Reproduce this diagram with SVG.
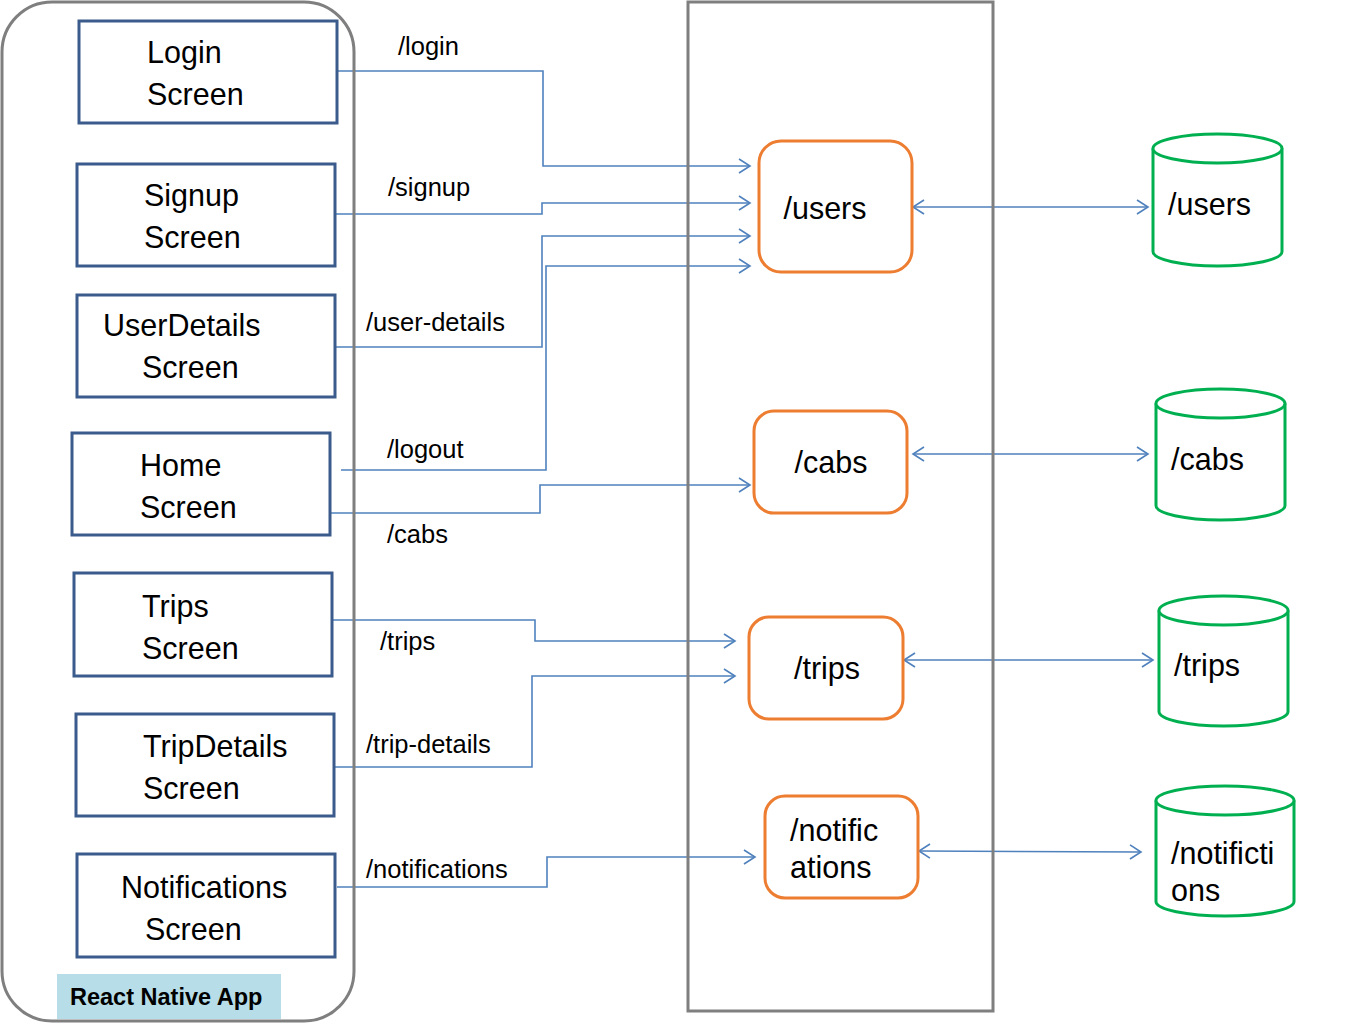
<svg xmlns="http://www.w3.org/2000/svg" width="1358" height="1029" viewBox="0 0 1358 1029">
<defs>
<marker id="arr" markerUnits="userSpaceOnUse" markerWidth="14" markerHeight="16" refX="12" refY="8" orient="auto-start-reverse">
<path d="M1,1 L12,8 L1,15" fill="none" stroke="#4F81BD" stroke-width="1.6"/>
</marker>
</defs>
<style>
.scr{fill:#fff;stroke:#3A5B8C;stroke-width:3}
.st{font-family:"Liberation Sans",Arial,sans-serif;font-size:30.5px;fill:#000}
.lb{font-family:"Liberation Sans",Arial,sans-serif;font-size:25.5px;fill:#000}
.svc{fill:#fff;stroke:#ED7D31;stroke-width:3}
.db{fill:#fff;stroke:#00B050;stroke-width:3}
.cn{fill:none;stroke:#4F81BD;stroke-width:1.6}
.ct{fill:none;stroke:#7F7F7F;stroke-width:3}
</style>
<rect x="0" y="0" width="1358" height="1029" fill="#fff"/>
<g id="connectors">
<polyline class="cn" points="337,71 543,71 543,166 750,166" marker-end="url(#arr)"/>
<polyline class="cn" points="335,214 542,214 542,203 750,203" marker-end="url(#arr)"/>
<polyline class="cn" points="335,347 542,347 542,236 750,236" marker-end="url(#arr)"/>
<polyline class="cn" points="341,470 546,470 546,266 750,266" marker-end="url(#arr)"/>
<polyline class="cn" points="330,513 540,513 540,485 750,485" marker-end="url(#arr)"/>
<polyline class="cn" points="332,620 535,620 535,641 735,641" marker-end="url(#arr)"/>
<polyline class="cn" points="330,767 532,767 532,676 735,676" marker-end="url(#arr)"/>
<polyline class="cn" points="337,887 547,887 547,857 755,857" marker-end="url(#arr)"/>
<line class="cn" x1="913" y1="207" x2="1148" y2="207" marker-start="url(#arr)" marker-end="url(#arr)"/>
<line class="cn" x1="913" y1="454" x2="1148" y2="454" marker-start="url(#arr)" marker-end="url(#arr)"/>
<line class="cn" x1="904" y1="660" x2="1153" y2="660" marker-start="url(#arr)" marker-end="url(#arr)"/>
<line class="cn" x1="919" y1="851" x2="1141" y2="852" marker-start="url(#arr)" marker-end="url(#arr)"/>
<text class="lb" x="398" y="55">/login</text>
<text class="lb" x="388" y="196">/signup</text>
<text class="lb" x="366" y="331">/user-details</text>
<text class="lb" x="387" y="458">/logout</text>
<text class="lb" x="387" y="543">/cabs</text>
<text class="lb" x="380" y="650">/trips</text>
<text class="lb" x="366" y="753">/trip-details</text>
<text class="lb" x="366" y="878">/notifications</text>
</g>
<g id="app">
<rect class="ct" x="2" y="2" width="352" height="1019" rx="50" ry="50"/>
<rect x="57" y="974" width="224" height="45" fill="#B7DDE8"/>
<text x="70" y="1005" font-family="Liberation Sans,Arial,sans-serif" font-size="23.5" font-weight="bold" fill="#000">React Native App</text>
</g>
<g id="server">
<rect class="ct" x="688" y="2" width="305" height="1009"/>
</g>
<g id="login-screen">
<rect class="scr" x="79" y="21" width="258" height="102"/>
<text class="st" x="147" y="63">Login</text>
<text class="st" x="147" y="105">Screen</text>
</g>
<g id="signup-screen">
<rect class="scr" x="77" y="164" width="258" height="102"/>
<text class="st" x="144" y="206">Signup</text>
<text class="st" x="144" y="248">Screen</text>
</g>
<g id="userdetails-screen">
<rect class="scr" x="77" y="295" width="258" height="102"/>
<text class="st" x="103" y="336">UserDetails</text>
<text class="st" x="142" y="378">Screen</text>
</g>
<g id="home-screen">
<rect class="scr" x="72" y="433" width="258" height="102"/>
<text class="st" x="140" y="476">Home</text>
<text class="st" x="140" y="518">Screen</text>
</g>
<g id="trips-screen">
<rect class="scr" x="74" y="573" width="258" height="103"/>
<text class="st" x="142" y="617">Trips</text>
<text class="st" x="142" y="659">Screen</text>
</g>
<g id="tripdetails-screen">
<rect class="scr" x="76" y="714" width="258" height="102"/>
<text class="st" x="143" y="757">TripDetails</text>
<text class="st" x="143" y="799">Screen</text>
</g>
<g id="notifications-screen">
<rect class="scr" x="77" y="854" width="258" height="103"/>
<text class="st" x="121" y="898">Notifications</text>
<text class="st" x="145" y="940">Screen</text>
</g>
<g id="svc-users">
<rect class="svc" x="759" y="141" width="153" height="131" rx="22"/>
<text class="st" x="825" y="219" text-anchor="middle">/users</text>
</g>
<g id="svc-cabs">
<rect class="svc" x="754" y="411" width="153" height="102" rx="20"/>
<text class="st" x="831" y="473" text-anchor="middle">/cabs</text>
</g>
<g id="svc-trips">
<rect class="svc" x="749" y="617" width="154" height="102" rx="20"/>
<text class="st" x="827" y="679" text-anchor="middle">/trips</text>
</g>
<g id="svc-notifications">
<rect class="svc" x="765" y="796" width="153" height="102" rx="20"/>
<text class="st" x="790" y="841">/notific</text>
<text class="st" x="790" y="878">ations</text>
</g>
<g id="db-users">
<path class="db" d="M1153,148.5 L1153,251.5 A64.5,14.5 0 0 0 1282,251.5 L1282,148.5"/>
<ellipse class="db" cx="1217.5" cy="148.5" rx="64.5" ry="14.5"/>
<text class="st" x="1168" y="215">/users</text>
</g>
<g id="db-cabs">
<path class="db" d="M1156,403.5 L1156,505.5 A64.5,14.5 0 0 0 1285,505.5 L1285,403.5"/>
<ellipse class="db" cx="1220.5" cy="403.5" rx="64.5" ry="14.5"/>
<text class="st" x="1171" y="470">/cabs</text>
</g>
<g id="db-trips">
<path class="db" d="M1159,610.5 L1159,711.5 A64.5,14.5 0 0 0 1288,711.5 L1288,610.5"/>
<ellipse class="db" cx="1223.5" cy="610.5" rx="64.5" ry="14.5"/>
<text class="st" x="1174" y="676">/trips</text>
</g>
<g id="db-notifications">
<path class="db" d="M1156,800.5 L1156,901.5 A69,14.5 0 0 0 1294,901.5 L1294,800.5"/>
<ellipse class="db" cx="1225" cy="800.5" rx="69" ry="14.5"/>
<text class="st" x="1171" y="864">/notificti</text>
<text class="st" x="1171" y="901">ons</text>
</g>
</svg>
